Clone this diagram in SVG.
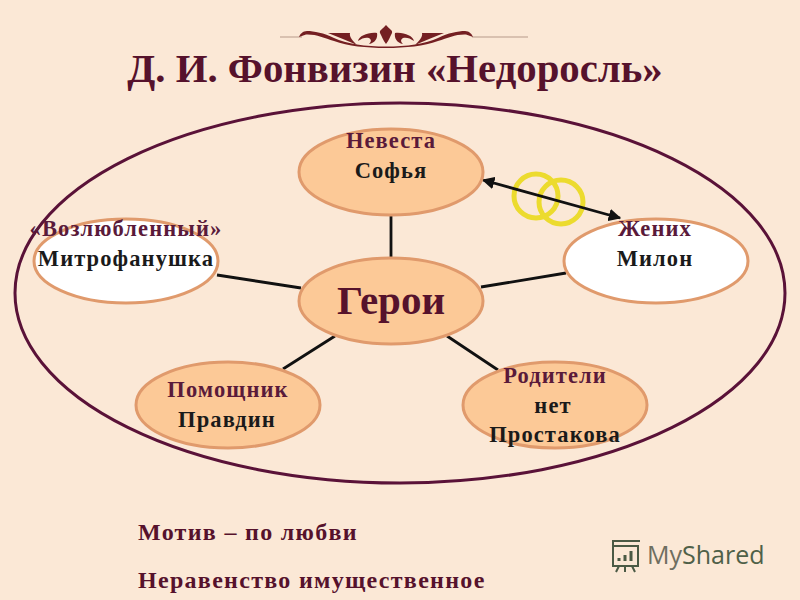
<svg xmlns="http://www.w3.org/2000/svg" width="800" height="600" viewBox="0 0 800 600">
<style>
.n{stroke:#e09a6c;stroke-width:3}
.o{fill:#fcc997}
.w{fill:#fff}
.s{font-family:"Liberation Serif",serif;font-weight:bold}
.t{font-size:22.500px;text-anchor:middle;letter-spacing:1.100px}
.f{font-size:24px;letter-spacing:1.300px;fill:#56122c}
.m{fill:#5a1a3a}
.b{fill:#1a1a1a}
.c{stroke:#111;stroke-width:2.800;fill:none}
</style>
<defs>
<marker id="a" viewBox="0 0 10 10" refX="9" refY="5" markerWidth="4.500" markerHeight="4.500" orient="auto-start-reverse"><path d="M0 0L10 5L0 10z" fill="#111"/></marker>
<g id="half" fill="#741f22">
<path d="M9 33C18 32 27 36 28 41C24 38 20 37 17 38C14 40 15 42 17 44C11 43 8 38 9 33Z"/>
<path d="M36 33L58 33C48 37 38 41 29 45C33 41 37 37 36 33Z"/>
<path d="M0 46.500C20 46.500 40 44 52 38C62 33 72 31 79 31C83 31 86 34 87 37L80 34.500C70 34 62 38 52 41C38 46 20 48 0 48Z"/>
</g>
</defs>
<rect width="800" height="600" fill="#fbe8d6"/>
<g id="ornament">
<path d="M280 37H302M472 37H528" stroke="#b89a8a" stroke-width="1.200" fill="none"/>
<use href="#half" transform="translate(386 0)"/>
<use href="#half" transform="translate(386 0) scale(-1 1)"/>
<path d="M386 25C389 29 393 30 392 33C390 37 389 40 386 44C383 40 382 37 380 33C379 30 383 29 386 25Z" fill="#741f22"/>
</g>
<text id="title" class="s" x="395" y="82" font-size="40.800" text-anchor="middle" fill="#56122c">Д. И. Фонвизин «Недоросль»</text>
<ellipse id="frame" cx="400" cy="293" rx="385" ry="190" fill="none" stroke="#5a1238" stroke-width="3"/>
<g id="rings" fill="none" stroke="#ecdb2e" stroke-width="5">
<ellipse cx="536" cy="196" rx="22" ry="22"/>
<ellipse cx="561" cy="202" rx="22" ry="22"/>
</g>
<g id="connectors">
<path class="c" d="M391 216V257M217 275L301 288M481 287L566 273M283 369L335 336M447 336L498 370"/>
<path class="c" d="M483 180L620 218" marker-start="url(#a)" marker-end="url(#a)"/>
</g>
<g id="node-bride"><ellipse class="n o" cx="391" cy="172" rx="92" ry="43"/><text class="s t m" x="391" y="148">Невеста</text><text class="s t b" x="391" y="178">Софья</text></g>
<g id="node-lover"><ellipse class="n w" cx="126" cy="261" rx="92" ry="42"/><text class="s t m" x="126" y="236">«Возлюбленный»</text><text class="s t b" x="126" y="266">Митрофанушка</text></g>
<g id="node-groom"><ellipse class="n w" cx="656" cy="261" rx="92" ry="42"/><text class="s t m" x="655" y="236">Жених</text><text class="s t b" x="655" y="266">Милон</text></g>
<g id="node-heroes"><ellipse class="n o" cx="391" cy="301" rx="92" ry="43"/><text class="s" x="391" y="314" font-size="41" text-anchor="middle" fill="#56122c">Герои</text></g>
<g id="node-helper"><ellipse class="n o" cx="228" cy="405" rx="92" ry="43"/><text class="s t m" x="228" y="397">Помощник</text><text class="s t b" x="227" y="427">Правдин</text></g>
<g id="node-parents"><ellipse class="n o" cx="555" cy="405" rx="92" ry="43"/><text class="s t m" x="555" y="383">Родители</text><text class="s t b" x="553" y="413">нет</text><text class="s t b" x="555" y="442">Простакова</text></g>
<text class="s f" x="138" y="540">Мотив – по любви</text>
<text class="s f" x="138" y="588">Неравенство имущественное</text>
<g id="watermark">
<path d="M612 541H640M613 546H638V566H613ZM613 541V553M619 566L616 572M625 566V572M632 566L635 572" fill="none" stroke="#4b5a45" stroke-width="2"/>
<path d="M619 561V558M625 561V555M631 561V551" stroke="#4b5a45" stroke-width="3"/>
<text x="647" y="564" font-family="Open Sans,sans-serif" font-size="25" fill="#6e6e60">My<tspan fill="#4f6048">Shared</tspan></text>
</g>
</svg>
